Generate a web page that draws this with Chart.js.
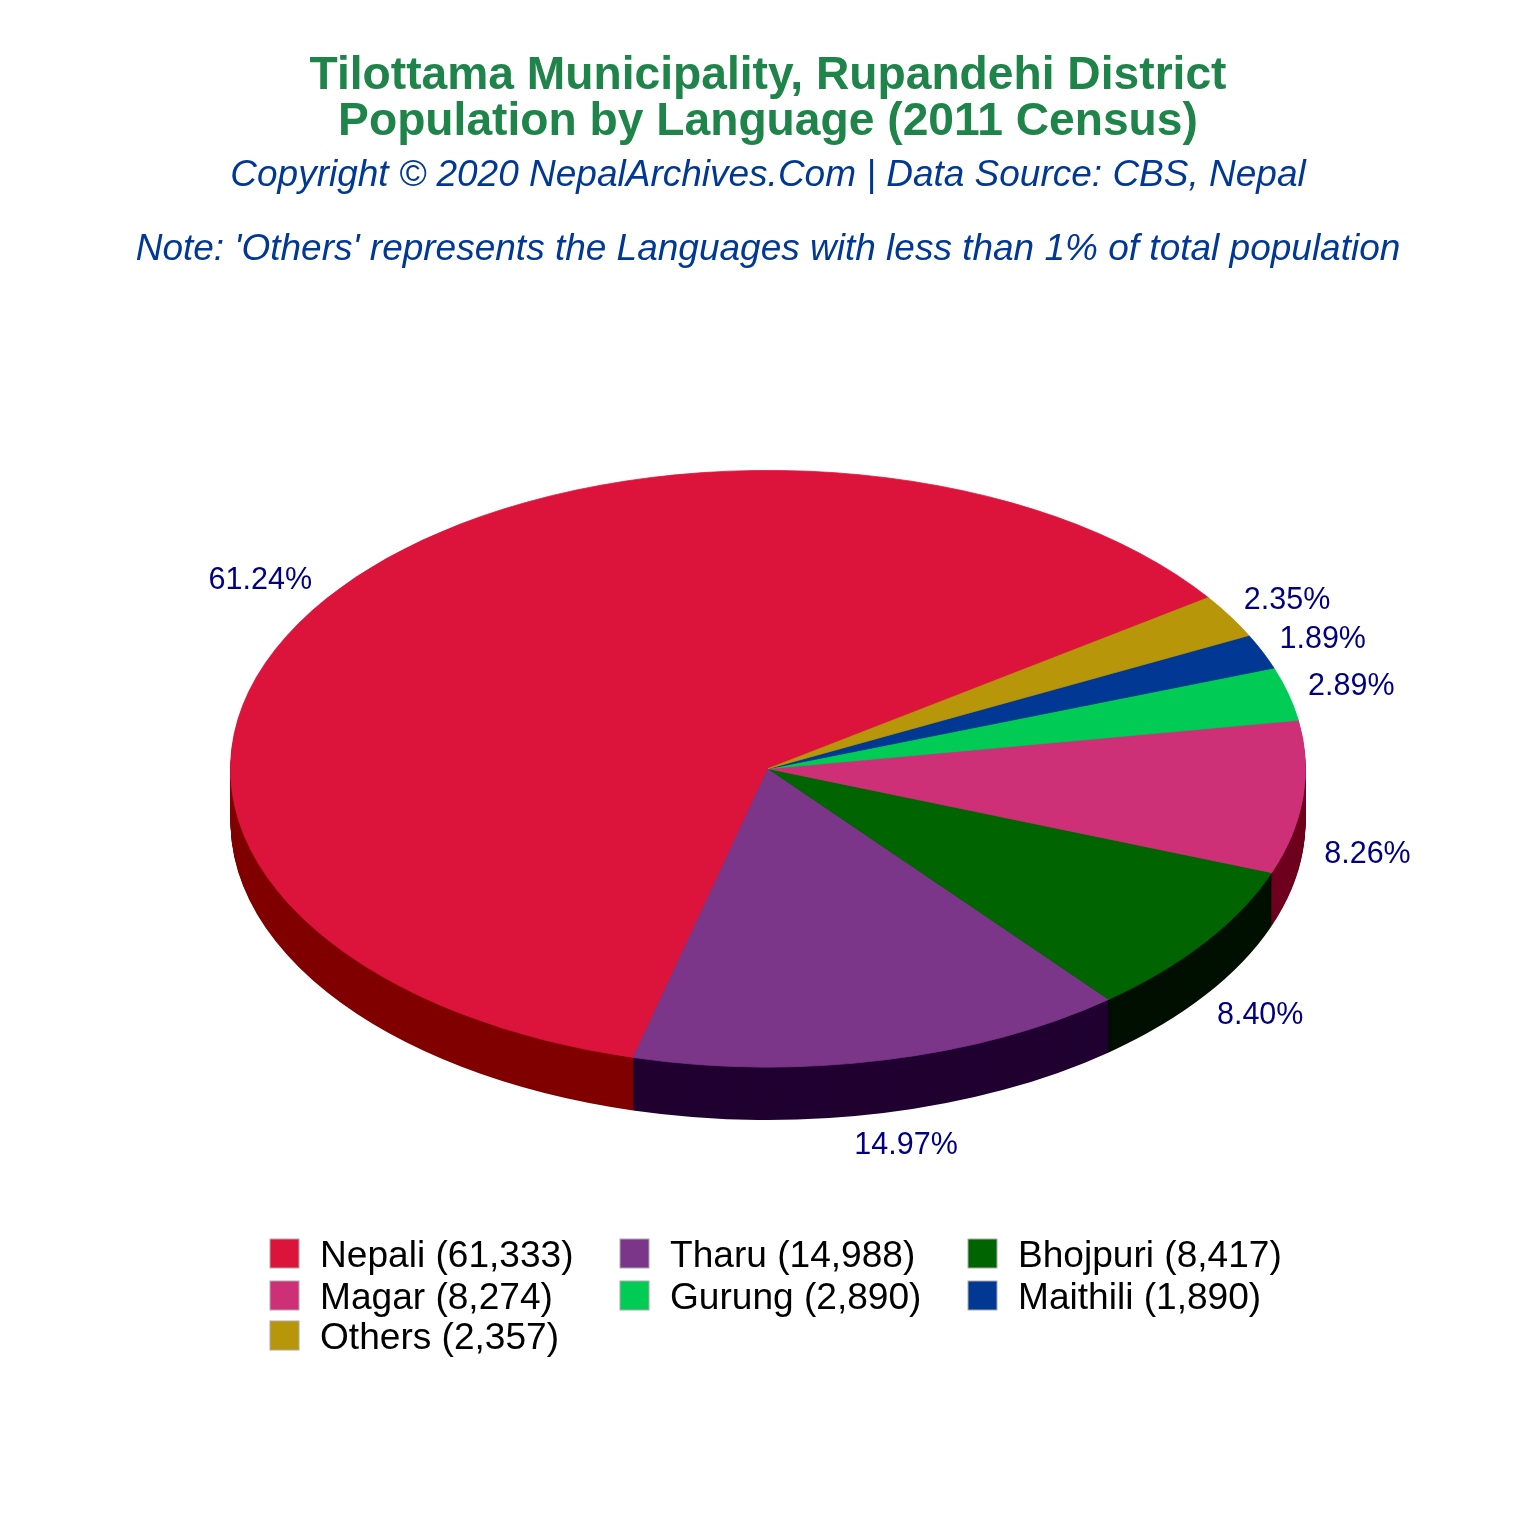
<!DOCTYPE html>
<html>
<head>
<meta charset="utf-8">
<title>Tilottama Municipality - Population by Language</title>
<script src="https://cdn.jsdelivr.net/npm/chart.js@4/dist/chart.umd.js"></script>
<style>
  html, body { margin: 0; padding: 0; background: #fff; }
  canvas { display: block; }
</style>
</head>
<body>
<canvas id="grafico" width="1536" height="1536"></canvas>
<script>
const languages = ['Nepali', 'Tharu', 'Bhojpuri', 'Magar', 'Gurung', 'Maithili', 'Others'];
const population = [61333, 14988, 8417, 8274, 2890, 1890, 2357];
const topColors = ['#DC143C', '#7B3589', '#006400', '#CE3077', '#00CC55', '#003893', '#B8960A'];
const sideColors = ['#800000', '#200030', '#001000', '#6E001E', '#006628', '#001C49', '#5C4B05'];

const titleLines = ['Tilottama Municipality, Rupandehi District', 'Population by Language (2011 Census)'];
const subtitleLines = [
  'Copyright © 2020 NepalArchives.Com | Data Source: CBS, Nepal',
  '',
  "Note: 'Others' represents the Languages with less than 1% of total population"
];

const FONT = '"Liberation Sans", Arial, sans-serif';
const SQUASH = 0.555;   // ellipse height / width
const DEPTH = 53;       // height of the pie wall in px
const RADIUS = 537.5;

// mirror so the slices run counter-clockwise, then flatten
function tilt(ctx, arc) {
  ctx.translate(arc.x, arc.y);
  ctx.scale(-1, SQUASH);
  ctx.translate(-arc.x, -arc.y);
}

const pie3d = {
  id: 'pie3d',
  beforeDatasetsDraw(chart) {
    const ctx = chart.ctx;
    const arcs = chart.getDatasetMeta(0).data;
    // wall: stack of dark slices, deepest first
    for (let d = DEPTH; d >= 1; d--) {
      arcs.forEach((arc, i) => {
        ctx.save();
        ctx.translate(0, d);
        tilt(ctx, arc);
        ctx.fillStyle = sideColors[i];
        ctx.beginPath();
        ctx.moveTo(arc.x, arc.y);
        ctx.arc(arc.x, arc.y, arc.outerRadius, arc.startAngle, arc.endAngle);
        ctx.closePath();
        ctx.fill();
        ctx.restore();
      });
    }
    ctx.save();
    tilt(ctx, arcs[0]);
  },
  afterDatasetsDraw(chart) {
    chart.ctx.restore();
  },
  afterDraw(chart) {
    const ctx = chart.ctx;
    const total = population.reduce((a, b) => a + b, 0);

    // percentage labels around the rim
    ctx.save();
    ctx.font = '30.5px ' + FONT;
    ctx.fillStyle = '#000080';
    ctx.textAlign = 'center';
    ctx.textBaseline = 'middle';
    chart.getDatasetMeta(0).data.forEach((arc, i) => {
      const mid = (arc.startAngle + arc.endAngle) / 2;
      const dx = -Math.cos(mid) * arc.outerRadius * 1.1;
      const dy = Math.sin(mid) * arc.outerRadius * SQUASH * 1.11;
      const x = arc.x + dx + (dx > 0 ? 11 : -22);
      const y = arc.y + dy + (dy > 0 ? DEPTH : 0);
      ctx.fillText((population[i] / total * 100).toFixed(2) + '%', x, y + 1);
    });
    ctx.restore();

    // legend: 3 fixed columns
    const colX = [270, 620, 968];
    const rowY = [1239, 1281, 1321];
    ctx.save();
    ctx.font = '37.1px ' + FONT;
    ctx.textAlign = 'left';
    ctx.textBaseline = 'middle';
    languages.forEach((name, i) => {
      const x = colX[i % 3];
      const y = rowY[Math.floor(i / 3)];
      ctx.fillStyle = topColors[i];
      ctx.strokeStyle = '#aaaaaa';
      ctx.lineWidth = 1;
      ctx.fillRect(x, y, 29, 29);
      ctx.strokeRect(x, y, 29, 29);
      ctx.fillStyle = '#000000';
      ctx.fillText(name + ' (' + population[i].toLocaleString('en-US') + ')', x + 50, y + 18);
    });
    ctx.restore();
  }
};

new Chart(document.getElementById('grafico'), {
  type: 'pie',
  data: {
    labels: languages,
    datasets: [{
      data: population,
      backgroundColor: topColors,
      borderColor: topColors,
      borderWidth: 1,
      clip: false
    }]
  },
  options: {
    responsive: false,
    animation: false,
    rotation: -55.0,
    radius: RADIUS,
    layout: { padding: { bottom: 277 } },
    plugins: {
      legend: { display: false },
      tooltip: { enabled: false },
      title: {
        display: true,
        text: titleLines,
        color: '#1E8449',
        font: { family: FONT, size: 46.2, weight: 'bold', lineHeight: 1 },
        padding: { top: 53, bottom: 12 }
      },
      subtitle: {
        display: true,
        text: subtitleLines,
        color: '#003893',
        font: { family: FONT, size: 37, style: 'italic', lineHeight: 1 },
        padding: { top: 0, bottom: 10 }
      }
    }
  },
  plugins: [pie3d]
});
</script>
</body>
</html>
